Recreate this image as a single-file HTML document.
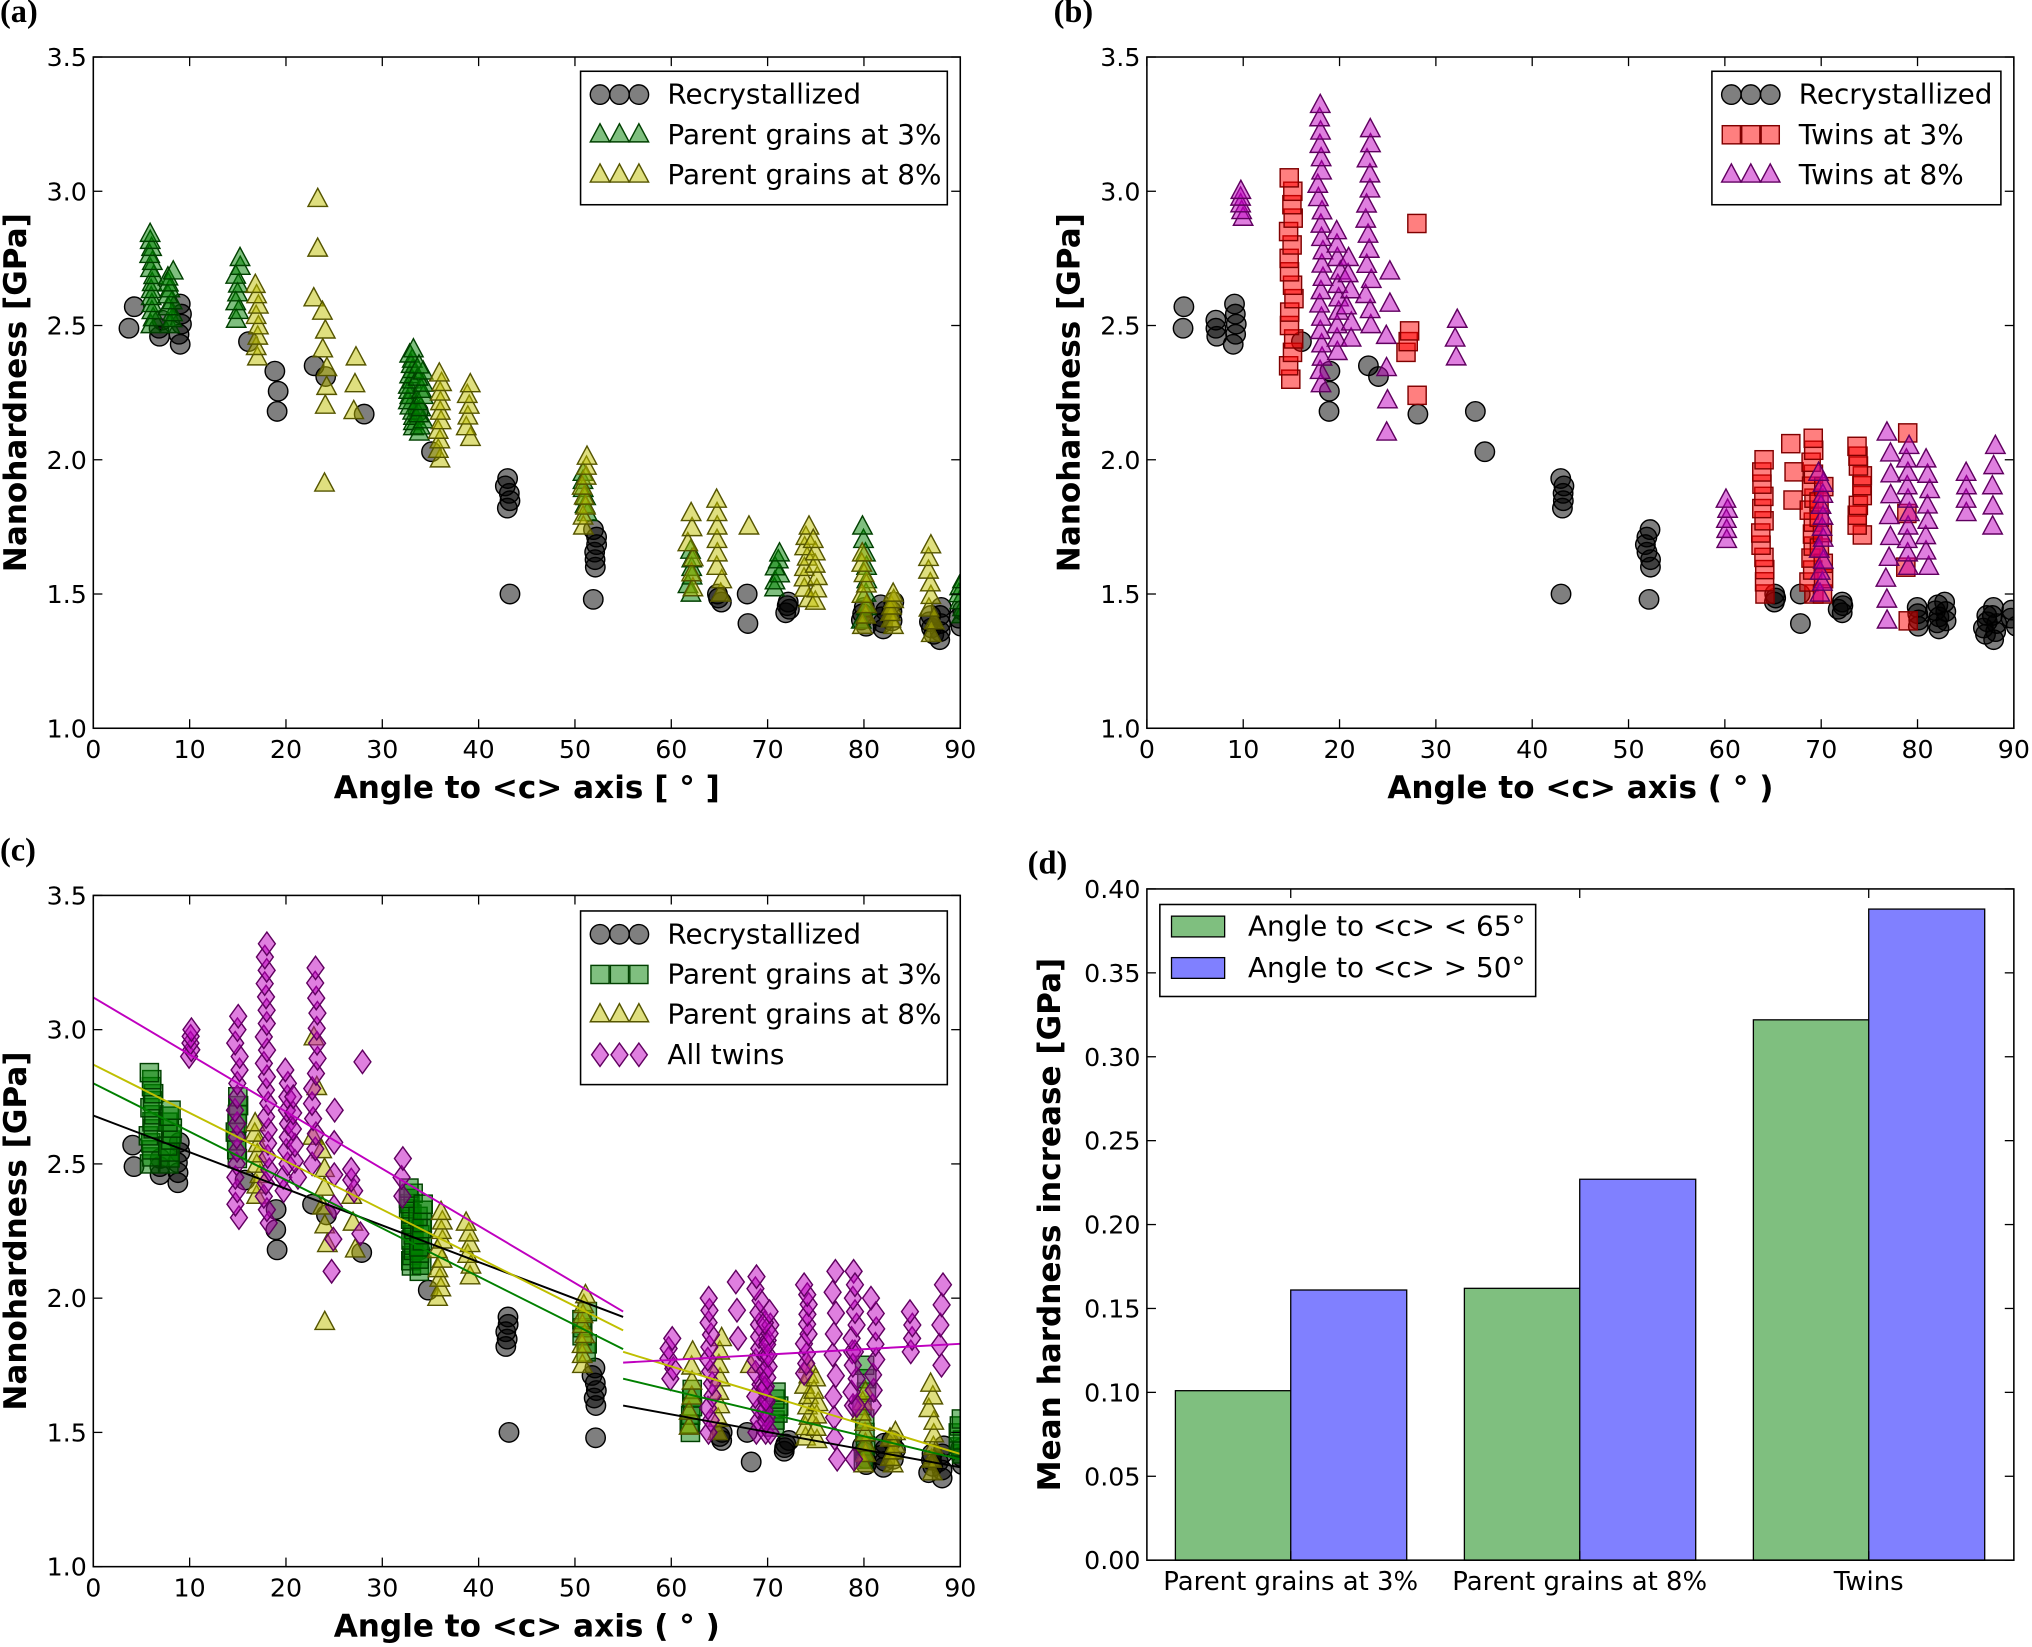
<!DOCTYPE html>
<html><head><meta charset="utf-8">
<style>
html,body{margin:0;padding:0;background:#fff;}
svg{display:block;}
text{font-family:"DejaVu Sans","Liberation Sans",sans-serif;}
.tk{font-size:19.5px;fill:#000;}
.tkd{font-size:20px;fill:#000;}
.lab{font-size:24px;font-weight:bold;fill:#000;}
.pl{font-family:"Liberation Serif",serif;font-size:25px;font-weight:bold;}
.lg{font-size:21.5px;}
</style></head>
<body>
<svg id="s" width="2032" height="1647" viewBox="0 0 1568 1271" preserveAspectRatio="none" xmlns="http://www.w3.org/2000/svg">
<rect width="1568" height="1271" fill="#fff"/>
<defs>
<clipPath id="ca"><rect x="72" y="44" width="669" height="518"/></clipPath>
<clipPath id="cb"><rect x="885" y="44" width="669" height="518"/></clipPath>
<clipPath id="cc"><rect x="72" y="691" width="669" height="518"/></clipPath>
</defs>
<g id="g"></g>
</svg>
<script>
const root=document.getElementById('g');
let g=root;
let seed=7;function rnd(){seed=(seed*16807)%2147483647;return seed/2147483647;}
function el(t,a,txt){const e=document.createElementNS('http://www.w3.org/2000/svg',t);for(const k in a)e.setAttribute(k,a[k]);if(txt!==undefined)e.textContent=txt;g.appendChild(e);return e;}
const panels={a:{x0:72,x1:741,y0:44,y1:562},b:{x0:885,x1:1554,y0:44,y1:562},c:{x0:72,x1:741,y0:691,y1:1209}};
function px(p,a){return p.x0+(p.x1-p.x0)*a/90;}
function py(p,h){return p.y1-(p.y1-p.y0)*(h-1)/2.5;}
const sty={
 rec:{f:'#000',e:'#000'},
 g3:{f:'#008000',e:'#004000'},
 y8:{f:'#bfbf00',e:'#555500'},
 r3:{f:'#ff0000',e:'#800000'},
 m8:{f:'#bf00bf',e:'#600060'},
};
function marker(shape,cx,cy,s){
 const st=sty[s.c];const a={fill:st.f,'fill-opacity':0.5,stroke:st.e,'stroke-width':1.1};
 const r=7.5;
 if(shape=='o'){a.cx=cx;a.cy=cy;a.r=r;el('circle',a);}
 else if(shape=='^'){a.points=`${cx},${cy-r-1} ${cx-r},${cy+r-2} ${cx+r},${cy+r-2}`;el('polygon',a);}
 else if(shape=='s'){a.x=cx-r+0.5;a.y=cy-r+0.5;a.width=2*r-1;a.height=2*r-1;el('rect',a);}
 else if(shape=='d'){a.points=`${cx},${cy-r-1.5} ${cx+r-1},${cy} ${cx},${cy+r+1.5} ${cx-r+1},${cy}`;el('polygon',a);}
}
const REC=[[4,2.49,2.57,2],[7,2.46,2.52,3],[9,2.43,2.58,5],[16,2.44,2.44,1],[19,2.18,2.33,3],[23,2.35,2.35,1],[24,2.31,2.31,1],[28,2.17,2.17,1],[34,2.18,2.18,1],[35,2.03,2.03,1],[43,1.82,1.93,5],[43,1.5,1.5,1],[52,1.6,1.74,6],[52,1.48,1.48,1],[65,1.47,1.5,3],[68,1.5,1.5,1],[68,1.39,1.39,1],[72,1.43,1.47,4],[80,1.38,1.45,4],[82,1.37,1.46,5],[83,1.4,1.47,3],[87,1.35,1.42,4],[88,1.33,1.45,5],[90,1.38,1.44,3]];
const G3=[[6,2.5,2.84,14],[8,2.5,2.7,10],[15,2.52,2.75,8],[33,2.12,2.41,16],[34,2.1,2.35,12],[51,1.8,1.95,6],[62,1.5,1.66,6],[71,1.52,1.65,6],[80,1.4,1.75,8],[90,1.42,1.55,6]];
const Y8=[[17,2.38,2.65,8],[23,2.6,2.97,3],[24,2.2,2.55,6],[24,1.91,1.91,1],[27,2.18,2.38,3],[36,2.0,2.32,10],[39,2.08,2.28,6],[51,1.75,2.01,8],[62,1.52,1.8,6],[65,1.5,1.85,8],[68,1.75,1.75,1],[74,1.48,1.75,8],[75,1.47,1.7,6],[80,1.38,1.65,8],[83,1.38,1.5,6],[87,1.35,1.68,8]];
const R3=[[15,2.3,3.05,16],[27,2.4,2.48,3],[28,2.88,2.88,1],[28,2.24,2.24,1],[64,1.5,2.0,12],[67,1.85,2.06,3],[69,1.5,2.08,14],[70,1.5,1.9,8],[74,1.72,2.05,10],[79,2.1,2.1,1],[79,1.4,1.8,3]];
const M8=[[10,2.9,3.0,5],[18,2.28,3.32,22],[20,2.4,2.85,10],[21,2.45,2.75,6],[23,2.5,3.23,14],[25,2.1,2.7,6],[32,2.38,2.52,3],[60,1.7,1.85,5],[70,1.5,1.95,12],[77,1.4,2.1,10],[79,1.6,2.05,10],[81,1.6,2.0,8],[85,1.8,1.95,4],[88,1.75,2.05,5]];
function scatter(p,data,shape,c){for(const [a,lo,hi,n] of data){for(let i=0;i<n;i++){const h=n==1?lo:lo+(hi-lo)*i/(n-1);const ax=a+(rnd()-0.5)*0.6;marker(shape,px(p,ax),py(p,h),{c});}}}
function clipg(id){const e=document.createElementNS('http://www.w3.org/2000/svg','g');e.setAttribute('clip-path',`url(#${id})`);root.appendChild(e);g=e;}
function unclip(){g=root;}
function axes(p,xlab,label){
 el('rect',{x:p.x0,y:p.y0,width:p.x1-p.x0,height:p.y1-p.y0,fill:'none',stroke:'#000','stroke-width':1.2});
 for(let a=0;a<=90;a+=10){const x=px(p,a);el('line',{x1:x,x2:x,y1:p.y1,y2:p.y1-7,stroke:'#000'});el('line',{x1:x,x2:x,y1:p.y0,y2:p.y0+7,stroke:'#000'});el('text',{x:x,y:p.y1+23,'text-anchor':'middle',class:'tk'},String(a));}
 for(let h=1;h<=3.5;h+=0.5){const y=py(p,h);el('line',{x1:p.x0,x2:p.x0+7,y1:y,y2:y,stroke:'#000'});el('line',{x1:p.x1,x2:p.x1-7,y1:y,y2:y,stroke:'#000'});el('text',{x:p.x0-5,y:y+7,'text-anchor':'end',class:'tk'},h.toFixed(1));}
 el('text',{x:(p.x0+p.x1)/2,y:p.y1+54,'text-anchor':'middle',class:'lab'},xlab);
 const cy=(p.y0+p.y1)/2;el('text',{x:0,y:0,'text-anchor':'middle',class:'lab',transform:`translate(${p.x0-52},${cy}) rotate(-90)`},'Nanohardness [GPa]');
 el('text',{x:p.x0-72,y:p.y0-27,class:'pl'},label);
}
function legend(x,y,w,rows){
 el('rect',{x:x,y:y,width:w,height:rows.length*31+10,fill:'#fff',stroke:'#000','stroke-width':1.2});
 rows.forEach((r,i)=>{const cy=y+18+i*31;for(let k=0;k<3;k++)marker(r[0],x+15+k*15,cy,{c:r[1]});el('text',{x:x+67,y:cy+7,class:'lg'},r[2]);});
}
const A=panels.a,B=panels.b,C=panels.c;
clipg('ca');scatter(A,REC,'o','rec');scatter(A,G3,'^','g3');scatter(A,Y8,'^','y8');unclip();
axes(A,'Angle to <c> axis [ ° ]','(a)');
legend(448,55,283,[['o','rec','Recrystallized'],['^','g3','Parent grains at 3%'],['^','y8','Parent grains at 8%']]);
clipg('cb');scatter(B,REC,'o','rec');scatter(B,R3,'s','r3');scatter(B,M8,'^','m8');unclip();
axes(B,'Angle to <c> axis ( ° )','(b)');
legend(1321,55,223,[['o','rec','Recrystallized'],['s','r3','Twins at 3%'],['^','m8','Twins at 8%']]);
clipg('cc');scatter(C,REC,'o','rec');scatter(C,G3,'s','g3');scatter(C,Y8,'^','y8');scatter(C,R3.concat(M8),'d','m8');
const lines=[['#000',2.68,1.93,1.6,1.37],['#008000',2.8,1.81,1.7,1.4],['#bfbf00',2.87,1.88,1.8,1.42],['#bf00bf',3.12,1.95,1.76,1.83]];
for(const [c,a0,a1,b0,b1] of lines){el('line',{x1:px(C,0),y1:py(C,a0),x2:px(C,55),y2:py(C,a1),stroke:c,'stroke-width':1.5});el('line',{x1:px(C,55),y1:py(C,b0),x2:px(C,90),y2:py(C,b1),stroke:c,'stroke-width':1.5});}
unclip();
axes(C,'Angle to <c> axis ( ° )','(c)');
legend(448,703,283,[['o','rec','Recrystallized'],['s','g3','Parent grains at 3%'],['^','y8','Parent grains at 8%'],['d','m8','All twins']]);
const D={x0:885,x1:1554,y0:686,y1:1204};
function dy(v){return D.y1-(D.y1-D.y0)*v/0.4;}
const bars=[[907,0.101,'#7fbf7f'],[996,0.161,'#8080ff'],[1130,0.162,'#7fbf7f'],[1219,0.227,'#8080ff'],[1353,0.322,'#7fbf7f'],[1442,0.388,'#8080ff']];
for(const [x,v,c] of bars)el('rect',{x:x,y:dy(v),width:89.5,height:D.y1-dy(v),fill:c,stroke:'#000','stroke-width':1});
el('rect',{x:D.x0,y:D.y0,width:D.x1-D.x0,height:D.y1-D.y0,fill:'none',stroke:'#000','stroke-width':1.2});
for(let i=0;i<=8;i++){const v=i*0.05,y=dy(v);el('line',{x1:D.x0,x2:D.x0+7,y1:y,y2:y,stroke:'#000'});el('line',{x1:D.x1,x2:D.x1-7,y1:y,y2:y,stroke:'#000'});el('text',{x:D.x0-5,y:y+7,'text-anchor':'end',class:'tk'},v.toFixed(2));}
[[996,'Parent grains at 3%'],[1219,'Parent grains at 8%'],[1442,'Twins']].forEach(([x,t])=>{el('line',{x1:x,x2:x,y1:D.y1,y2:D.y1-7,stroke:'#000'});el('line',{x1:x,x2:x,y1:D.y0,y2:D.y0+7,stroke:'#000'});el('text',{x:x,y:D.y1+23,'text-anchor':'middle',class:'tkd'},t);});
el('text',{x:0,y:0,'text-anchor':'middle',class:'lab',transform:`translate(818,${(D.y0+D.y1)/2}) rotate(-90)`},'Mean hardness increase [GPa]');
el('text',{x:793,y:674,class:'pl'},'(d)');
el('rect',{x:895,y:698,width:290,height:71,fill:'#fff',stroke:'#000','stroke-width':1.2});
el('rect',{x:904,y:707,width:41,height:16,fill:'#7fbf7f',stroke:'#000'});
el('rect',{x:904,y:739,width:41,height:16,fill:'#8080ff',stroke:'#000'});
el('text',{x:963,y:722,class:'lg'},'Angle to <c> < 65°');
el('text',{x:963,y:754,class:'lg'},'Angle to <c> > 50°');
</script>
</body></html>
